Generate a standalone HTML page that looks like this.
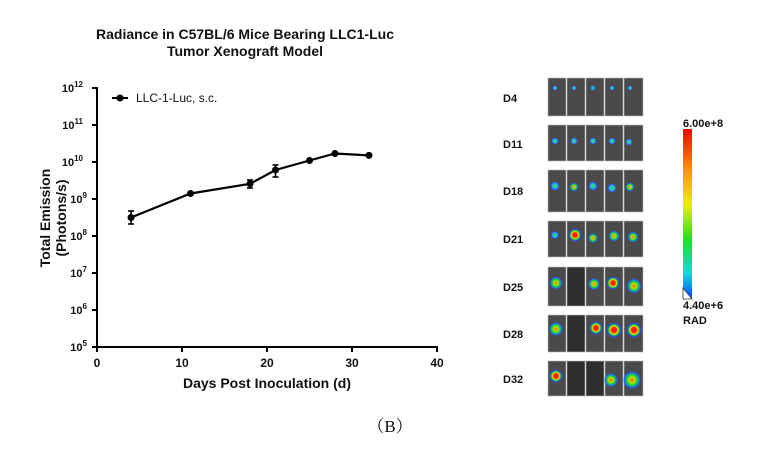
<!DOCTYPE html>
<html><head><meta charset="utf-8"><style>
body{margin:0;background:#fff;width:781px;height:446px;overflow:hidden}
svg text{font-family:"Liberation Sans",Arial,sans-serif;font-weight:bold;fill:#111}
</style></head><body>
<svg width="781" height="446" viewBox="0 0 781 446" xmlns="http://www.w3.org/2000/svg">
<defs>
<radialGradient id="hot"><stop offset="0" stop-color="#ff1010"/><stop offset="0.35" stop-color="#ff3000"/><stop offset="0.5" stop-color="#f0e000"/><stop offset="0.65" stop-color="#20d020"/><stop offset="0.85" stop-color="#2040ff"/><stop offset="1" stop-color="#7040c0" stop-opacity="0"/></radialGradient>
<radialGradient id="mid"><stop offset="0" stop-color="#ff5000"/><stop offset="0.3" stop-color="#c0e000"/><stop offset="0.6" stop-color="#10d040"/><stop offset="0.85" stop-color="#2060ff"/><stop offset="1" stop-color="#4040ff" stop-opacity="0"/></radialGradient>
<radialGradient id="cool"><stop offset="0" stop-color="#40e020"/><stop offset="0.5" stop-color="#20c0e0"/><stop offset="0.85" stop-color="#3050ff"/><stop offset="1" stop-color="#3050ff" stop-opacity="0"/></radialGradient>
<linearGradient id="cb" x1="0" y1="0" x2="0" y2="1"><stop offset="0" stop-color="#ff0000"/><stop offset="0.25" stop-color="#ff9900"/><stop offset="0.45" stop-color="#e8f000"/><stop offset="0.65" stop-color="#20e020"/><stop offset="0.85" stop-color="#00e0e0"/><stop offset="1" stop-color="#1040ff"/></linearGradient>
</defs>
<text x="245" y="39" font-size="14" text-anchor="middle">Radiance in C57BL/6 Mice Bearing LLC1-Luc</text>
<text x="245" y="56" font-size="14" text-anchor="middle">Tumor Xenograft Model</text>
<g stroke="#000" stroke-width="2" fill="none">
<line x1="97" y1="87" x2="97" y2="348"/>
<line x1="96" y1="347" x2="438" y2="347"/>
<line x1="92" y1="88" x2="97" y2="88"/><line x1="92" y1="125" x2="97" y2="125"/><line x1="92" y1="162" x2="97" y2="162"/><line x1="92" y1="199" x2="97" y2="199"/><line x1="92" y1="236" x2="97" y2="236"/><line x1="92" y1="273" x2="97" y2="273"/><line x1="92" y1="310" x2="97" y2="310"/><line x1="92" y1="347" x2="97" y2="347"/>
<line x1="97" y1="347" x2="97" y2="352"/><line x1="182" y1="347" x2="182" y2="352"/><line x1="267" y1="347" x2="267" y2="352"/><line x1="352" y1="347" x2="352" y2="352"/><line x1="437" y1="347" x2="437" y2="352"/>
</g>
<g font-size="11" text-anchor="end">
<text x="83" y="92">10<tspan font-size="8" dy="-5">12</tspan></text>
<text x="83" y="129">10<tspan font-size="8" dy="-5">11</tspan></text>
<text x="83" y="166">10<tspan font-size="8" dy="-5">10</tspan></text>
<text x="87" y="203">10<tspan font-size="8" dy="-5">9</tspan></text>
<text x="87" y="240">10<tspan font-size="8" dy="-5">8</tspan></text>
<text x="87" y="277">10<tspan font-size="8" dy="-5">7</tspan></text>
<text x="87" y="314">10<tspan font-size="8" dy="-5">6</tspan></text>
<text x="87" y="351">10<tspan font-size="8" dy="-5">5</tspan></text>
</g>
<g font-size="12" text-anchor="middle">
<text x="97" y="367">0</text><text x="182" y="367">10</text><text x="267" y="367">20</text><text x="352" y="367">30</text><text x="437" y="367">40</text>
</g>
<text x="267" y="388" font-size="14" text-anchor="middle">Days Post Inoculation (d)</text>
<text transform="translate(50,218) rotate(-90)" font-size="14" text-anchor="middle">Total Emission</text>
<text transform="translate(66,218) rotate(-90)" font-size="14" text-anchor="middle">(Photons/s)</text>
<line x1="112" y1="98" x2="128" y2="98" stroke="#000" stroke-width="2"/><circle cx="120" cy="98" r="3.5"/>
<text x="136" y="102" font-size="12" style="font-weight:normal">LLC-1-Luc, s.c.</text>
<polyline points="131,217.5 190.5,193.5 250,183.8 275.5,170 309.5,160.5 335,153.5 369,155.4" fill="none" stroke="#000" stroke-width="2.2"/>
<g stroke="#000" stroke-width="1.6">
<line x1="131" y1="211" x2="131" y2="224"/><line x1="128" y1="211" x2="134" y2="211"/><line x1="128" y1="224" x2="134" y2="224"/>
<line x1="250" y1="180" x2="250" y2="188"/><line x1="247" y1="180" x2="253" y2="180"/><line x1="247" y1="188" x2="253" y2="188"/>
<line x1="275.5" y1="165" x2="275.5" y2="177"/><line x1="272.5" y1="165" x2="278.5" y2="165"/><line x1="272.5" y1="177" x2="278.5" y2="177"/>
<line x1="335" y1="151" x2="335" y2="157"/>
</g>
<g fill="#000">
<circle cx="131" cy="217.5" r="3.5"/><circle cx="190.5" cy="193.5" r="3.5"/><circle cx="250" cy="183.8" r="3.5"/><circle cx="275.5" cy="170" r="3.5"/><circle cx="309.5" cy="160.5" r="3.5"/><circle cx="335" cy="153.5" r="3.5"/><circle cx="369" cy="155.4" r="3.5"/>
</g>
<text x="390" y="432" font-size="17" style="font-family:'Liberation Serif','Noto Serif CJK SC',serif;font-weight:normal" text-anchor="middle">（B）</text>

<g font-size="11">
<text x="503" y="102">D4</text><text x="503" y="148">D11</text><text x="503" y="195">D18</text><text x="503" y="243">D21</text><text x="503" y="291">D25</text><text x="503" y="338">D28</text><text x="503" y="383">D32</text>
</g>
<g fill="#4a4a4a" stroke="#bbb" stroke-width="0.6">
<rect x="548" y="78" width="18" height="38"/><rect x="567" y="78" width="18" height="38"/><rect x="586" y="78" width="18" height="38"/><rect x="605" y="78" width="18" height="38"/><rect x="624" y="78" width="19" height="38"/>
<rect x="548" y="125" width="18" height="36"/><rect x="567" y="125" width="18" height="36"/><rect x="586" y="125" width="18" height="36"/><rect x="605" y="125" width="18" height="36"/><rect x="624" y="125" width="19" height="36"/>
<rect x="548" y="170" width="18" height="42"/><rect x="567" y="170" width="18" height="42"/><rect x="586" y="170" width="18" height="42"/><rect x="605" y="170" width="18" height="42"/><rect x="624" y="170" width="19" height="42"/>
<rect x="548" y="221" width="18" height="36"/><rect x="567" y="221" width="18" height="36"/><rect x="586" y="221" width="18" height="36"/><rect x="605" y="221" width="18" height="36"/><rect x="624" y="221" width="19" height="36"/>
<rect x="548" y="267" width="18" height="39"/><rect x="567" y="267" width="18" height="39" fill="#2e2e2e"/><rect x="586" y="267" width="18" height="39"/><rect x="605" y="267" width="18" height="39"/><rect x="624" y="267" width="19" height="39"/>
<rect x="548" y="315" width="18" height="37"/><rect x="567" y="315" width="18" height="37" fill="#2e2e2e"/><rect x="586" y="315" width="18" height="37"/><rect x="605" y="315" width="18" height="37"/><rect x="624" y="315" width="19" height="37"/>
<rect x="548" y="361" width="18" height="35"/><rect x="567" y="361" width="18" height="35" fill="#2e2e2e"/><rect x="586" y="361" width="18" height="35" fill="#2e2e2e"/><rect x="605" y="361" width="18" height="35"/><rect x="624" y="361" width="19" height="35"/>
</g>
<g>
<circle cx="555" cy="88" r="2.5" fill="url(#cool)"/><circle cx="574" cy="88" r="2.5" fill="url(#cool)"/><circle cx="593" cy="88" r="2.5" fill="url(#cool)"/><circle cx="612" cy="88" r="2.5" fill="url(#cool)"/><circle cx="630" cy="88" r="2.5" fill="url(#cool)"/>
<circle cx="555" cy="141" r="3.5" fill="url(#cool)"/><circle cx="574" cy="141" r="3.5" fill="url(#cool)"/><circle cx="593" cy="141" r="3.5" fill="url(#cool)"/><circle cx="612" cy="141" r="3.5" fill="url(#cool)"/><circle cx="629" cy="142" r="3.5" fill="url(#cool)"/>
<circle cx="555" cy="186" r="4.5" fill="url(#cool)"/><circle cx="574" cy="187" r="4.5" fill="url(#mid)"/><circle cx="593" cy="186" r="4.5" fill="url(#cool)"/><circle cx="612" cy="188" r="4.5" fill="url(#cool)"/><circle cx="630" cy="187" r="4.5" fill="url(#mid)"/>
<circle cx="555" cy="235" r="4" fill="url(#cool)"/><circle cx="575" cy="235" r="7" fill="url(#hot)"/><circle cx="593" cy="238" r="5" fill="url(#mid)"/><circle cx="614" cy="236" r="5.5" fill="url(#mid)"/><circle cx="633" cy="237" r="5.5" fill="url(#mid)"/>
<circle cx="556" cy="283" r="6.5" fill="url(#mid)"/><circle cx="594" cy="284" r="6" fill="url(#mid)"/><circle cx="613" cy="283" r="7" fill="url(#hot)"/><circle cx="634" cy="286" r="7.5" fill="url(#mid)"/>
<circle cx="556" cy="329" r="7" fill="url(#mid)"/><circle cx="596" cy="328" r="7" fill="url(#hot)"/><circle cx="614" cy="330" r="8" fill="url(#hot)"/><circle cx="634" cy="330" r="8" fill="url(#hot)"/>
<circle cx="556" cy="376" r="7" fill="url(#hot)"/><circle cx="611" cy="380" r="7" fill="url(#mid)"/><circle cx="632" cy="380" r="9" fill="url(#mid)"/>
</g>
<rect x="683" y="129" width="9" height="170" fill="url(#cb)"/>
<polygon points="683,288 683,299 692,299" fill="#fff" stroke="#333" stroke-width="0.8"/>
<text x="683" y="127" font-size="11">6.00e+8</text>
<text x="683" y="309" font-size="11">4.40e+6</text>
<text x="683" y="324" font-size="11">RAD</text>
</svg>
</body></html>
